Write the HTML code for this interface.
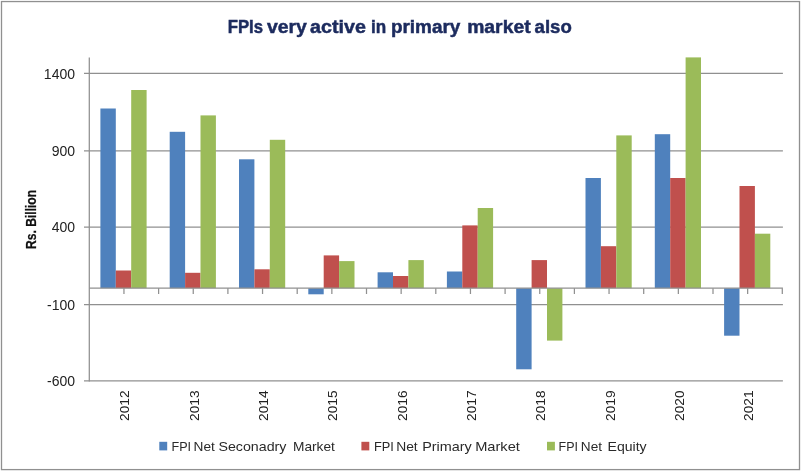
<!DOCTYPE html>
<html><head><meta charset="utf-8"><title>FPIs very active in primary market also</title>
<style>
html,body{margin:0;padding:0;background:#fff;}
body{width:802px;height:473px;overflow:hidden;font-family:"Liberation Sans",sans-serif;}
svg{display:block;filter:blur(0.4px);}
text{font-family:"Liberation Sans",sans-serif;}
</style></head><body>
<svg width="802" height="473" viewBox="0 0 802 473">
<rect x="0" y="0" width="802" height="473" fill="#ffffff"/>
<rect x="1.5" y="1.55" width="798" height="468.05" fill="#ffffff" stroke="#909090" stroke-width="1.3"/>

<line x1="84.0" y1="73.40" x2="782.9" y2="73.40" stroke="#909090" stroke-width="1.25"/>
<line x1="84.0" y1="150.80" x2="782.9" y2="150.80" stroke="#909090" stroke-width="1.25"/>
<line x1="84.0" y1="227.05" x2="782.9" y2="227.05" stroke="#909090" stroke-width="1.25"/>
<line x1="84.0" y1="304.60" x2="782.9" y2="304.60" stroke="#909090" stroke-width="1.25"/>
<line x1="84.0" y1="380.90" x2="782.9" y2="380.90" stroke="#909090" stroke-width="1.25"/>
<rect x="100.40" y="108.50" width="15.40" height="179.70" fill="#4f81bd"/>
<rect x="115.80" y="270.50" width="15.40" height="17.70" fill="#c0504d"/>
<rect x="131.20" y="90.00" width="15.40" height="198.20" fill="#9bbb59"/>
<rect x="169.70" y="131.80" width="15.40" height="156.40" fill="#4f81bd"/>
<rect x="185.10" y="272.80" width="15.40" height="15.40" fill="#c0504d"/>
<rect x="200.50" y="115.40" width="15.40" height="172.80" fill="#9bbb59"/>
<rect x="239.00" y="159.30" width="15.40" height="128.90" fill="#4f81bd"/>
<rect x="254.40" y="269.30" width="15.40" height="18.90" fill="#c0504d"/>
<rect x="269.80" y="139.80" width="15.40" height="148.40" fill="#9bbb59"/>
<rect x="308.30" y="288.20" width="15.40" height="6.10" fill="#4f81bd"/>
<rect x="323.70" y="255.40" width="15.40" height="32.80" fill="#c0504d"/>
<rect x="339.10" y="261.10" width="15.40" height="27.10" fill="#9bbb59"/>
<rect x="377.60" y="272.30" width="15.40" height="15.90" fill="#4f81bd"/>
<rect x="393.00" y="276.00" width="15.40" height="12.20" fill="#c0504d"/>
<rect x="408.40" y="260.10" width="15.40" height="28.10" fill="#9bbb59"/>
<rect x="446.90" y="271.50" width="15.40" height="16.70" fill="#4f81bd"/>
<rect x="462.30" y="225.40" width="15.40" height="62.80" fill="#c0504d"/>
<rect x="477.70" y="208.00" width="15.40" height="80.20" fill="#9bbb59"/>
<rect x="516.20" y="288.20" width="15.40" height="81.10" fill="#4f81bd"/>
<rect x="531.60" y="260.10" width="15.40" height="28.10" fill="#c0504d"/>
<rect x="547.00" y="288.20" width="15.40" height="52.40" fill="#9bbb59"/>
<rect x="585.50" y="178.00" width="15.40" height="110.20" fill="#4f81bd"/>
<rect x="600.90" y="246.20" width="15.40" height="42.00" fill="#c0504d"/>
<rect x="616.30" y="135.40" width="15.40" height="152.80" fill="#9bbb59"/>
<rect x="654.80" y="134.20" width="15.40" height="154.00" fill="#4f81bd"/>
<rect x="670.20" y="178.00" width="15.40" height="110.20" fill="#c0504d"/>
<rect x="685.60" y="57.40" width="15.40" height="230.80" fill="#9bbb59"/>
<rect x="724.10" y="288.20" width="15.40" height="47.50" fill="#4f81bd"/>
<rect x="739.50" y="186.00" width="15.40" height="102.20" fill="#c0504d"/>
<rect x="754.90" y="233.70" width="15.40" height="54.50" fill="#9bbb59"/>
<line x1="89.3" y1="57.6" x2="89.3" y2="381.40" stroke="#909090" stroke-width="1.25"/>
<line x1="89.3" y1="288.20" x2="782.9" y2="288.20" stroke="#909090" stroke-width="1.25"/>
<line x1="123.95" y1="288.20" x2="123.95" y2="294.00" stroke="#909090" stroke-width="1.25"/>
<line x1="158.60" y1="288.20" x2="158.60" y2="294.00" stroke="#909090" stroke-width="1.25"/>
<line x1="193.25" y1="288.20" x2="193.25" y2="294.00" stroke="#909090" stroke-width="1.25"/>
<line x1="227.90" y1="288.20" x2="227.90" y2="294.00" stroke="#909090" stroke-width="1.25"/>
<line x1="262.55" y1="288.20" x2="262.55" y2="294.00" stroke="#909090" stroke-width="1.25"/>
<line x1="297.20" y1="288.20" x2="297.20" y2="294.00" stroke="#909090" stroke-width="1.25"/>
<line x1="331.85" y1="288.20" x2="331.85" y2="294.00" stroke="#909090" stroke-width="1.25"/>
<line x1="366.50" y1="288.20" x2="366.50" y2="294.00" stroke="#909090" stroke-width="1.25"/>
<line x1="401.15" y1="288.20" x2="401.15" y2="294.00" stroke="#909090" stroke-width="1.25"/>
<line x1="435.80" y1="288.20" x2="435.80" y2="294.00" stroke="#909090" stroke-width="1.25"/>
<line x1="470.45" y1="288.20" x2="470.45" y2="294.00" stroke="#909090" stroke-width="1.25"/>
<line x1="505.10" y1="288.20" x2="505.10" y2="294.00" stroke="#909090" stroke-width="1.25"/>
<line x1="539.75" y1="288.20" x2="539.75" y2="294.00" stroke="#909090" stroke-width="1.25"/>
<line x1="574.40" y1="288.20" x2="574.40" y2="294.00" stroke="#909090" stroke-width="1.25"/>
<line x1="609.05" y1="288.20" x2="609.05" y2="294.00" stroke="#909090" stroke-width="1.25"/>
<line x1="643.70" y1="288.20" x2="643.70" y2="294.00" stroke="#909090" stroke-width="1.25"/>
<line x1="678.35" y1="288.20" x2="678.35" y2="294.00" stroke="#909090" stroke-width="1.25"/>
<line x1="713.00" y1="288.20" x2="713.00" y2="294.00" stroke="#909090" stroke-width="1.25"/>
<line x1="747.65" y1="288.20" x2="747.65" y2="294.00" stroke="#909090" stroke-width="1.25"/>
<line x1="782.30" y1="288.20" x2="782.30" y2="294.00" stroke="#909090" stroke-width="1.25"/>
<text x="75.0" y="78.50" font-size="14" text-anchor="end" fill="#222">1400</text>
<text x="75.0" y="155.90" font-size="14" text-anchor="end" fill="#222">900</text>
<text x="75.0" y="232.15" font-size="14" text-anchor="end" fill="#222">400</text>
<text x="75.0" y="309.70" font-size="14" text-anchor="end" fill="#222">-100</text>
<text x="75.0" y="386.00" font-size="14" text-anchor="end" fill="#222">-600</text>
<text transform="translate(129.45,420.9) rotate(-90)" font-size="13.7" fill="#222">2012</text>
<text transform="translate(198.75,420.9) rotate(-90)" font-size="13.7" fill="#222">2013</text>
<text transform="translate(268.05,420.9) rotate(-90)" font-size="13.7" fill="#222">2014</text>
<text transform="translate(337.35,420.9) rotate(-90)" font-size="13.7" fill="#222">2015</text>
<text transform="translate(406.65,420.9) rotate(-90)" font-size="13.7" fill="#222">2016</text>
<text transform="translate(475.95,420.9) rotate(-90)" font-size="13.7" fill="#222">2017</text>
<text transform="translate(545.25,420.9) rotate(-90)" font-size="13.7" fill="#222">2018</text>
<text transform="translate(614.55,420.9) rotate(-90)" font-size="13.7" fill="#222">2019</text>
<text transform="translate(683.85,420.9) rotate(-90)" font-size="13.7" fill="#222">2020</text>
<text transform="translate(753.15,420.9) rotate(-90)" font-size="13.7" fill="#222">2021</text>
<text transform="translate(36.4,248.9) rotate(-90)" font-size="14.2" font-weight="bold" fill="#111" stroke="#111" stroke-width="0.25" textLength="59" lengthAdjust="spacingAndGlyphs">Rs. Billion</text>
<text x="227.7" y="32.7" font-size="18.7" font-weight="bold" fill="#1c2b5e" stroke="#1c2b5e" stroke-width="0.5" textLength="35.4" lengthAdjust="spacingAndGlyphs">FPIs</text>
<text x="267.0" y="32.7" font-size="18.7" font-weight="bold" fill="#1c2b5e" stroke="#1c2b5e" stroke-width="0.5" textLength="39.9" lengthAdjust="spacingAndGlyphs">very</text>
<text x="310.1" y="32.7" font-size="18.7" font-weight="bold" fill="#1c2b5e" stroke="#1c2b5e" stroke-width="0.5" textLength="55.8" lengthAdjust="spacingAndGlyphs">active</text>
<text x="370.9" y="32.7" font-size="18.7" font-weight="bold" fill="#1c2b5e" stroke="#1c2b5e" stroke-width="0.5" textLength="15.2" lengthAdjust="spacingAndGlyphs">in</text>
<text x="390.9" y="32.7" font-size="18.7" font-weight="bold" fill="#1c2b5e" stroke="#1c2b5e" stroke-width="0.5" textLength="69.4" lengthAdjust="spacingAndGlyphs">primary</text>
<text x="467.2" y="32.7" font-size="18.7" font-weight="bold" fill="#1c2b5e" stroke="#1c2b5e" stroke-width="0.5" textLength="63.4" lengthAdjust="spacingAndGlyphs">market</text>
<text x="534.6" y="32.7" font-size="18.7" font-weight="bold" fill="#1c2b5e" stroke="#1c2b5e" stroke-width="0.5" textLength="37.2" lengthAdjust="spacingAndGlyphs">also</text>
<rect x="159.3" y="441.8" width="7.9" height="8.6" fill="#4f81bd"/>
<text x="171.5" y="450.6" font-size="13" fill="#2a2a2a" textLength="19.6" lengthAdjust="spacingAndGlyphs">FPI</text>
<text x="193.5" y="450.6" font-size="13" fill="#2a2a2a" textLength="21.3" lengthAdjust="spacingAndGlyphs">Net</text>
<text x="218.4" y="450.6" font-size="13" fill="#2a2a2a" textLength="68.0" lengthAdjust="spacingAndGlyphs">Seconadry</text>
<text x="293.0" y="450.6" font-size="13" fill="#2a2a2a" textLength="41.9" lengthAdjust="spacingAndGlyphs">Market</text>
<rect x="361.4" y="441.8" width="7.9" height="8.6" fill="#c0504d"/>
<text x="373.9" y="450.6" font-size="13" fill="#2a2a2a" textLength="19.9" lengthAdjust="spacingAndGlyphs">FPI</text>
<text x="396.2" y="450.6" font-size="13" fill="#2a2a2a" textLength="21.5" lengthAdjust="spacingAndGlyphs">Net</text>
<text x="422.2" y="450.6" font-size="13" fill="#2a2a2a" textLength="49.6" lengthAdjust="spacingAndGlyphs">Primary</text>
<text x="475.2" y="450.6" font-size="13" fill="#2a2a2a" textLength="44.7" lengthAdjust="spacingAndGlyphs">Market</text>
<rect x="547.0" y="441.8" width="7.9" height="8.6" fill="#9bbb59"/>
<text x="558.6" y="450.6" font-size="13" fill="#2a2a2a" textLength="19.4" lengthAdjust="spacingAndGlyphs">FPI</text>
<text x="580.8" y="450.6" font-size="13" fill="#2a2a2a" textLength="21.2" lengthAdjust="spacingAndGlyphs">Net</text>
<text x="607.5" y="450.6" font-size="13" fill="#2a2a2a" textLength="39.1" lengthAdjust="spacingAndGlyphs">Equity</text>
</svg></body></html>
